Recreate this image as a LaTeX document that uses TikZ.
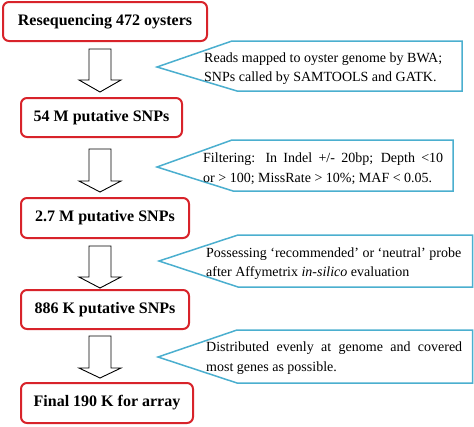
\documentclass[tikz,border=0pt]{standalone}
\usepackage{fontspec}
\setmainfont{Liberation Serif}
\definecolor{boxred}{HTML}{D8232A}
\definecolor{callblue}{HTML}{4BAFCF}
\tikzset{
  x=1pt, y=-1pt,
  redbox/.style={draw=boxred, line width=2pt, rounded corners=6pt, fill=white,
    inner sep=0pt, font=\fontsize{16}{19}\selectfont\bfseries},
  callshape/.style={draw=callblue, line width=1.5pt, fill=white, line join=miter},
  calltext/.style={inner sep=0pt, anchor=base west, font=\fontsize{14}{20}\selectfont},
  blockarrow/.style={draw=black, line width=0.9pt, fill=white, line join=miter},
}
\begin{document}
\begin{tikzpicture}
\useasboundingbox (0,0) rectangle (474,426);
% boxes
\node[redbox, minimum width=204pt, minimum height=39pt] (b1) at (105,21.5) {Resequencing 472 oysters};
\node[redbox, minimum width=161pt, minimum height=39pt] (b2) at (101.5,117.5) {54 M putative SNPs};
\node[redbox, minimum width=168pt, minimum height=40pt] (b3) at (105,218) {2.7 M putative SNPs};
\node[redbox, minimum width=168pt, minimum height=39pt] (b4) at (105,309.5) {886 K putative SNPs};
\node[redbox, minimum width=172pt, minimum height=40pt] (b5) at (107,403) {Final 190 K for array};
% block arrows
\draw[blockarrow] (89,49) -- (111,49) -- (111,80) -- (121,80) -- (100,92) -- (79,80) -- (89,80) -- cycle;
\draw[blockarrow] (89,149) -- (111,149) -- (111,181) -- (121,181) -- (100,192) -- (79,181) -- (89,181) -- cycle;
\draw[blockarrow] (89,246) -- (111,246) -- (111,277) -- (121,277) -- (100,288) -- (79,277) -- (89,277) -- cycle;
\draw[blockarrow] (89,336) -- (111,336) -- (111,368) -- (121,368) -- (100,378) -- (79,368) -- (89,368) -- cycle;
% callouts
\coordinate (p1) at (157,67);
\coordinate (p2) at (157,167);
\coordinate (p3) at (159,261);
\coordinate (p4) at (158,357);
\draw[callshape] (p1) -- (232,41) -- (462,41) -- (462,91) -- (237,91) -- cycle;
\draw[callshape] (p2) -- (232,140) -- (453,140) -- (453,191) -- (233,191) -- cycle;
\draw[callshape] (p3) -- (238,235) -- (472.5,235) -- (472.5,287) -- (238,287) -- cycle;
\draw[callshape] (p4) -- (237,330) -- (472.5,330) -- (472.5,383) -- (237,383) -- cycle;
% callout texts
\node[calltext] (t1a) at (204,62) {Reads mapped to oyster genome by BWA;};
\node[calltext] (t1b) at (204,81) {SNPs called by SAMTOOLS and GATK.};
\node[calltext] (t2a) at (203,162) {\makebox[240pt][s]{Filtering: In Indel +/- 20bp; Depth <10}};
\node[calltext] (t2b) at (203,182) {or > 100; MissRate > 10\%; MAF < 0.05.};
\node[calltext] (t3a) at (206,257) {Possessing ‘recommended’ or ‘neutral’ probe};
\node[calltext] (t3b) at (206,276) {after Affymetrix \textit{in-silico} evaluation};
\node[calltext] (t4a) at (206,351) {\makebox[256pt][s]{Distributed evenly at genome and covered}};
\node[calltext] (t4b) at (206,371) {most genes as possible.};
\end{tikzpicture}
\end{document}
